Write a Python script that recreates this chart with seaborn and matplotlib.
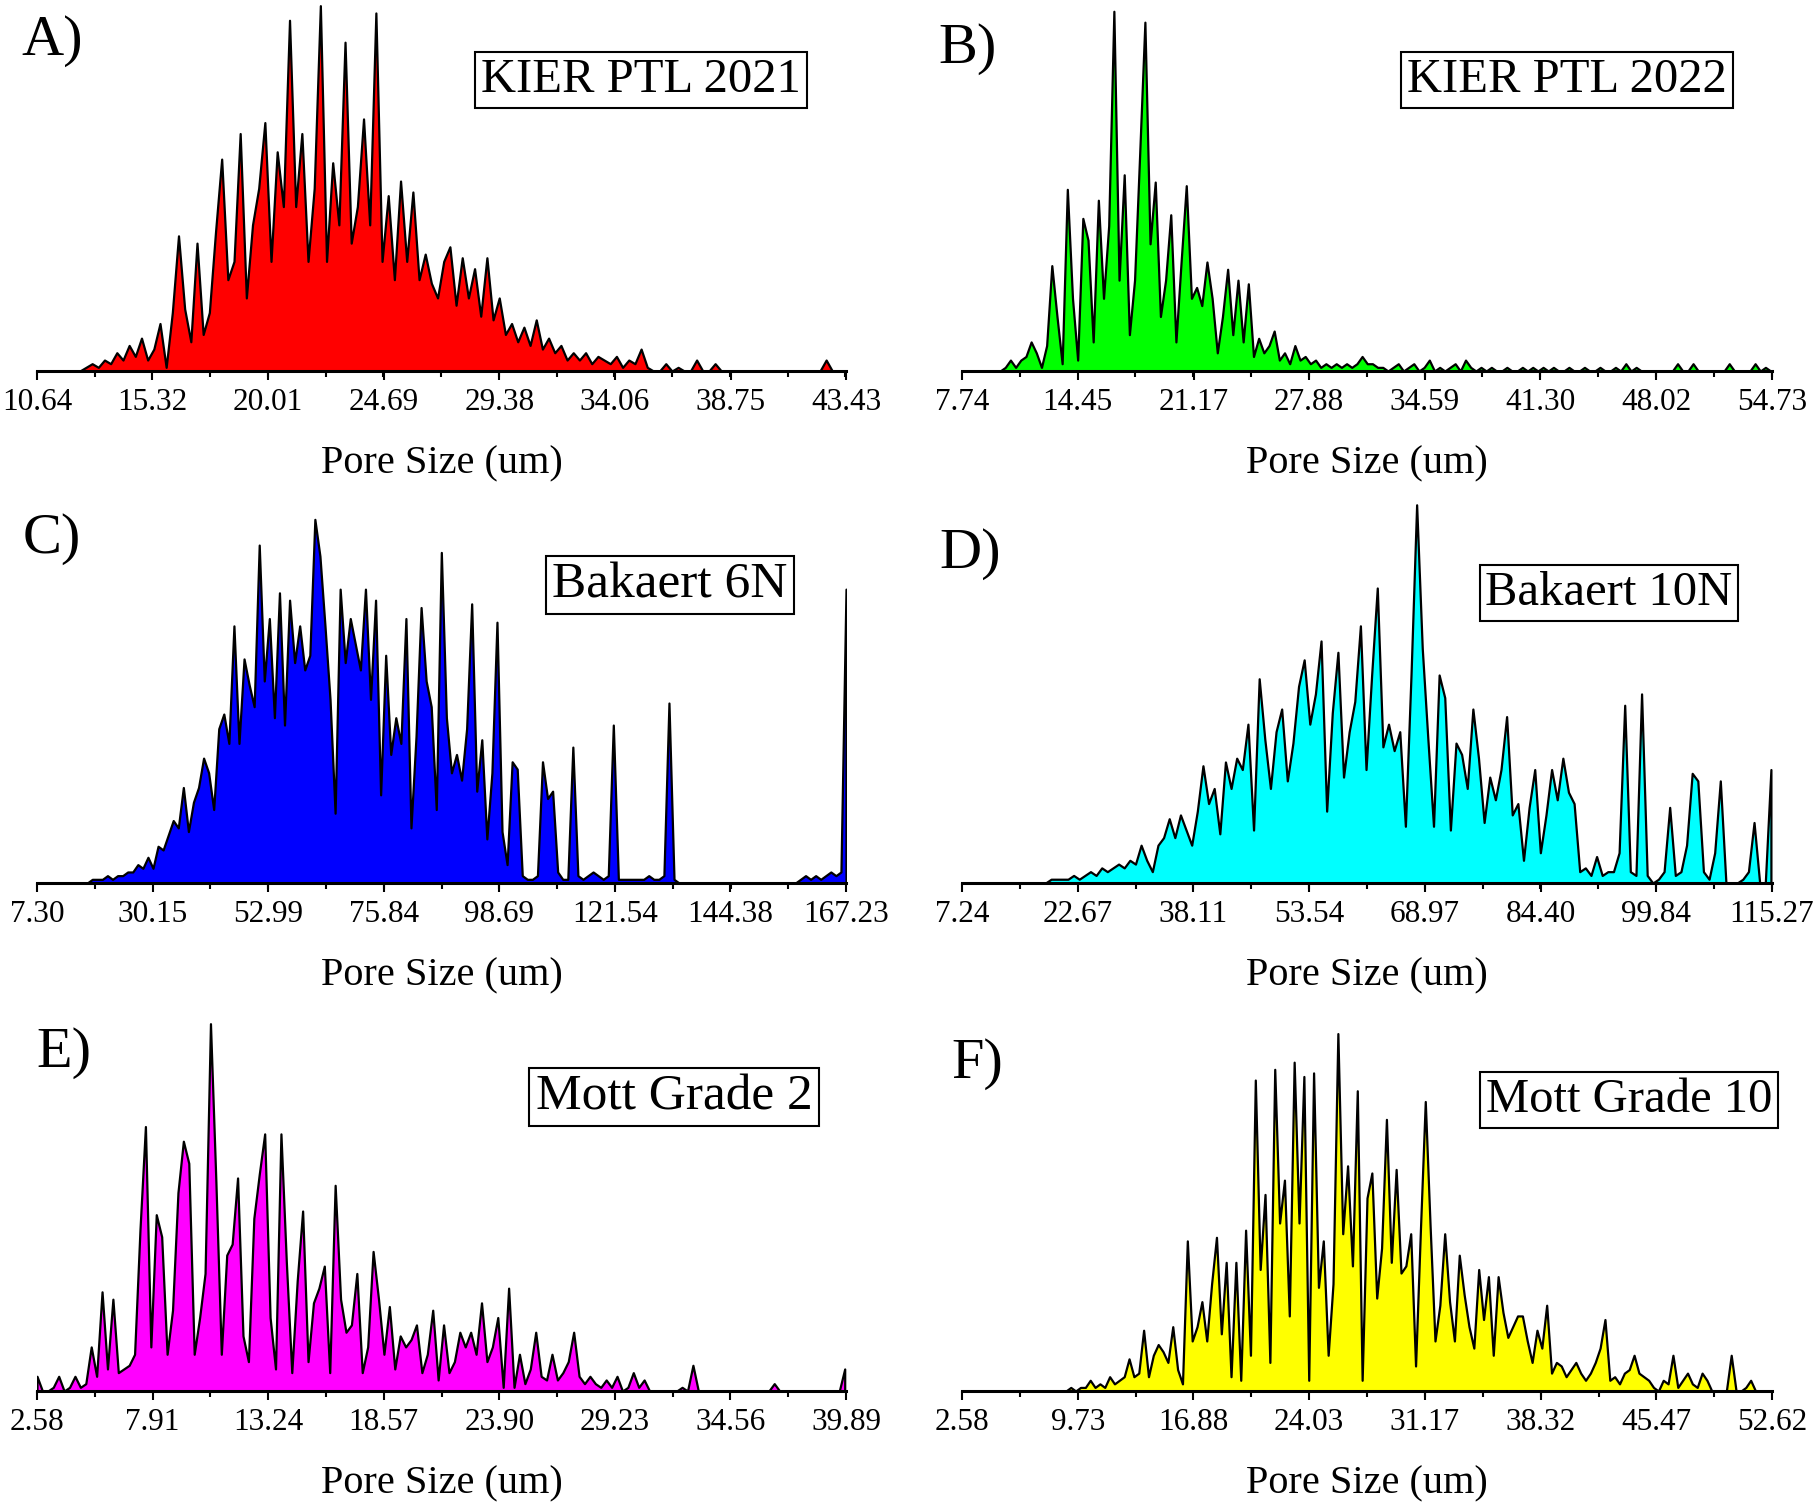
import numpy as np
import matplotlib.pyplot as plt
import seaborn as sns
from matplotlib.ticker import AutoMinorLocator

plt.rcParams['font.family'] = ['Liberation Serif', 'DejaVu Serif']

# ---- data: relative frequency (% of tallest bin) per pore-size bin ----
# A) KIER PTL 2021, bins of 0.25 um from 12.0
a_start, a_width = 12.0, 0.25
a_vals = [0, 0, 1, 2, 1, 3, 2, 5, 3, 7,
          4, 9, 3, 6, 13, 1, 16, 37, 17, 8,
          35, 10, 16, 38, 58, 25, 30, 65, 20, 40,
          50, 68, 30, 60, 45, 96, 45, 65, 30, 50,
          100, 30, 57, 40, 90, 35, 45, 69, 40, 98,
          30, 48, 25, 52, 30, 49, 25, 32, 24, 20,
          30, 34, 18, 31, 20, 28, 15, 31, 14, 20,
          10, 13, 8, 12, 7, 14, 6, 9, 5, 7,
          3, 5, 3, 5, 2, 4, 3, 2, 4, 1,
          3, 2, 6, 1, 0, 0, 2, 0, 1, 0,
          0, 3, 0, 0, 2, 0, 0, 0, 0, 0,
          0, 0, 0, 0, 0, 0, 0, 0, 0, 0,
          0, 0, 3, 0]
a_ticks = ['10.64', '15.32', '20.01', '24.69', '29.38', '34.06', '38.75', '43.43']

# B) KIER PTL 2022, bins of 0.3 um from 9.5
b_start, b_width = 9.5, 0.3
b_vals = [0, 0, 1, 3, 1, 3, 4, 8, 5, 1,
          7, 29, 15, 2, 50, 20, 3, 42, 36, 8,
          47, 20, 40, 99, 25, 54, 10, 25, 60, 96,
          35, 52, 15, 25, 43, 8, 30, 51, 20, 23,
          18, 30, 20, 5, 15, 28, 10, 25, 8, 24,
          4, 9, 5, 7, 11, 3, 5, 2, 7, 3,
          4, 2, 3, 1, 2, 1, 2, 1, 2, 1,
          2, 4, 2, 2, 1, 1, 0, 1, 2, 0,
          1, 2, 0, 1, 3, 0, 1, 0, 1, 2,
          0, 3, 1, 0, 1, 0, 1, 0, 0, 1,
          0, 0, 1, 0, 1, 0, 1, 0, 1, 0,
          0, 1, 0, 0, 1, 0, 0, 1, 0, 0,
          1, 0, 2, 0, 1, 0, 0, 0, 0, 0,
          0, 0, 2, 0, 0, 2, 0, 0, 0, 0,
          0, 0, 2, 0, 0, 0, 0, 2, 0, 1,
          0]
b_ticks = ['7.74', '14.45', '21.17', '27.88', '34.59', '41.30', '48.02', '54.73']

# C) Bakaert 6N, bins of 1.0 um from 16.73
c_start, c_width = 16.73, 1.0
c_vals = [0, 1, 1, 1, 2, 1, 2, 2, 3, 3,
          5, 4, 7, 4, 10, 9, 13, 17, 15, 26,
          14, 22, 26, 34, 30, 20, 42, 46, 38, 70,
          38, 61, 54, 48, 92, 55, 72, 45, 79, 43,
          77, 60, 70, 58, 62, 99, 89, 70, 50, 19,
          80, 60, 72, 65, 58, 80, 50, 77, 24, 62,
          35, 45, 38, 72, 15, 40, 75, 55, 48, 20,
          90, 45, 30, 35, 28, 42, 76, 25, 39, 12,
          30, 71, 14, 5, 33, 31, 2, 1, 1, 2,
          33, 23, 25, 3, 1, 1, 37, 2, 1, 2,
          3, 2, 1, 2, 43, 1, 1, 1, 1, 1,
          1, 2, 1, 1, 2, 49, 1, 0, 0, 0,
          0, 0, 0, 0, 0, 0, 0, 0, 0, 0,
          0, 0, 0, 0, 0, 0, 0, 0, 0, 0,
          0, 1, 2, 1, 2, 1, 2, 3, 2, 3,
          80]
c_ticks = ['7.30', '30.15', '52.99', '75.84', '98.69', '121.54', '144.38', '167.23']

# D) Bakaert 10N, bins of 0.75 um from 18.0
d_start, d_width = 18.0, 0.75
d_vals = [0, 1, 1, 1, 1, 2, 1, 2, 3, 2,
          4, 3, 4, 5, 4, 6, 5, 10, 6, 3,
          10, 12, 17, 12, 18, 14, 10, 19, 31, 21,
          25, 13, 32, 25, 33, 30, 42, 14, 54, 38,
          25, 40, 46, 27, 37, 52, 59, 42, 50, 64,
          19, 45, 61, 28, 40, 48, 68, 30, 55, 78,
          36, 42, 35, 40, 15, 55, 100, 62, 38, 15,
          55, 49, 14, 37, 34, 25, 46, 33, 16, 28,
          22, 30, 44, 18, 21, 6, 20, 30, 8, 18,
          30, 22, 33, 24, 21, 3, 4, 2, 7, 2,
          3, 3, 8, 47, 3, 2, 50, 2, 0, 1,
          3, 20, 2, 3, 10, 29, 27, 3, 1, 8,
          27, 0, 0, 0, 1, 3, 16, 0, 0, 30]
d_ticks = ['7.24', '22.67', '38.11', '53.54', '68.97', '84.40', '99.84', '115.27']

# E) Mott Grade 2, bins of 0.25 um from 2.455
e_start, e_width = 2.455, 0.25
e_vals = [4, 0, 0, 1, 4, 0, 1, 4, 1, 2,
          12, 4, 27, 6, 25, 5, 6, 7, 10, 44,
          72, 12, 48, 42, 10, 22, 54, 68, 62, 10,
          20, 32, 100, 57, 10, 37, 40, 58, 15, 8,
          47, 59, 70, 20, 6, 70, 35, 5, 30, 49,
          8, 24, 28, 34, 5, 56, 25, 16, 18, 32,
          5, 12, 38, 25, 10, 23, 6, 15, 12, 14,
          18, 5, 10, 22, 3, 18, 5, 8, 16, 12,
          16, 10, 24, 8, 12, 20, 1, 28, 1, 10,
          2, 6, 16, 4, 3, 10, 3, 5, 8, 16,
          4, 2, 4, 2, 1, 3, 1, 4, 0, 1,
          5, 1, 3, 0, 0, 0, 0, 0, 0, 1,
          0, 7, 0, 0, 0, 0, 0, 0, 0, 0,
          0, 0, 0, 0, 0, 0, 2, 0, 0, 0,
          0, 0, 0, 0, 0, 0, 0, 0, 0, 6]
e_ticks = ['2.58', '7.91', '13.24', '18.57', '23.90', '29.23', '34.56', '39.89']

# F) Mott Grade 10, bins of 0.3 um from 8.85
f_start, f_width = 8.85, 0.3
f_vals = [0, 1, 0, 1, 1, 3, 1, 2, 1, 4,
          2, 3, 4, 9, 4, 5, 17, 4, 10, 13,
          11, 8, 18, 6, 2, 42, 14, 18, 25, 14,
          30, 43, 16, 36, 4, 36, 3, 45, 10, 87,
          34, 55, 8, 90, 47, 59, 21, 92, 47, 88,
          3, 89, 29, 42, 10, 30, 100, 44, 63, 35,
          84, 3, 54, 61, 26, 40, 76, 36, 62, 33,
          35, 44, 7, 45, 81, 46, 14, 24, 44, 25,
          14, 38, 27, 18, 12, 34, 20, 32, 10, 32,
          22, 15, 18, 21, 21, 14, 8, 17, 12, 24,
          5, 8, 7, 4, 6, 8, 5, 3, 5, 8,
          12, 20, 3, 4, 2, 5, 6, 10, 5, 4,
          3, 1, 0, 3, 2, 10, 1, 3, 5, 2,
          1, 5, 3, 0, 0, 0, 0, 10, 0, 0,
          1, 3, 0, 0, 0, 0]
f_ticks = ['2.58', '9.73', '16.88', '24.03', '31.17', '38.32', '45.47', '52.62']

names = ['KIER PTL 2021', 'KIER PTL 2022', 'Bakaert 6N', 'Bakaert 10N',
         'Mott Grade 2', 'Mott Grade 10']
letters = ['A)', 'B)', 'C)', 'D)', 'E)', 'F)']
colors = ['#ff0000', '#00ff00', '#0000ff', '#00ffff', '#ff00ff', '#ffff00']

W, H = 1818, 1502
fig = plt.figure(figsize=(W / 100, H / 100), dpi=100)

# pixel layout: axes (left, right, top, bottom), letter xy, name box xy, name size
layout = [
    ((37, 846, 2, 371), (52, 41), (641, 80), 35),
    ((962, 1772, 4, 371), (968, 49), (1567, 80), 35),
    ((37, 846, 512, 883), (52, 539), (670, 585), 37),
    ((962, 1772, 501, 883), (970, 554), (1609, 593), 35),
    ((37, 846, 1020, 1391), (64, 1053), (674, 1097), 37),
    ((962, 1772, 1030, 1391), (977, 1064), (1629, 1100), 35),
]

series = [(a_start, a_width, a_vals, a_ticks), (b_start, b_width, b_vals, b_ticks),
          (c_start, c_width, c_vals, c_ticks), (d_start, d_width, d_vals, d_ticks),
          (e_start, e_width, e_vals, e_ticks), (f_start, f_width, f_vals, f_ticks)]

for i, (start, width, vals, ticks) in enumerate(series):
    (l, r, t, b), (lx, ly), (nx, ny), nsize = layout[i]
    ax = fig.add_axes([l / W, 1 - b / H, (r - l) / W, (b - t) / H])
    n = len(vals)
    centers = start + width * (np.arange(n) + 0.5)
    sns.histplot(x=centers, weights=vals, bins=n, binrange=(start, start + n * width),
                 element='poly', fill=True, color=colors[i], edgecolor='black',
                 linewidth=1.6, alpha=1, ax=ax)

    tick_pos = [float(s) for s in ticks]
    ax.set_xlim(tick_pos[0], tick_pos[-1])
    ax.set_ylim(0, 101)
    ax.set_xticks(tick_pos)
    ax.set_xticklabels(ticks)
    ax.xaxis.set_minor_locator(AutoMinorLocator(2))
    ax.set_yticks([])
    ax.set_ylabel('')
    ax.set_xlabel('Pore Size (um)', fontsize=29, labelpad=20)
    for s in ['top', 'right', 'left']:
        ax.spines[s].set_visible(False)
    ax.spines['bottom'].set_linewidth(2.2)
    ax.spines['bottom'].set_color('black')
    ax.tick_params(axis='x', which='major', direction='out', length=6.5, width=1.5,
                   labelsize=22.5, pad=6, colors='black')
    ax.tick_params(axis='x', which='minor', direction='out', length=4, width=1.5,
                   colors='black')
    ax.patch.set_alpha(0)

    fig.text(lx / W, 1 - ly / H, letters[i], ha='center', va='center', fontsize=42)
    fig.text(nx / W, 1 - ny / H, names[i], ha='center', va='center', fontsize=nsize,
             bbox=dict(boxstyle='square,pad=0.12', fc='white', ec='black', lw=1.5))

plt.savefig('out.png', dpi=100)
